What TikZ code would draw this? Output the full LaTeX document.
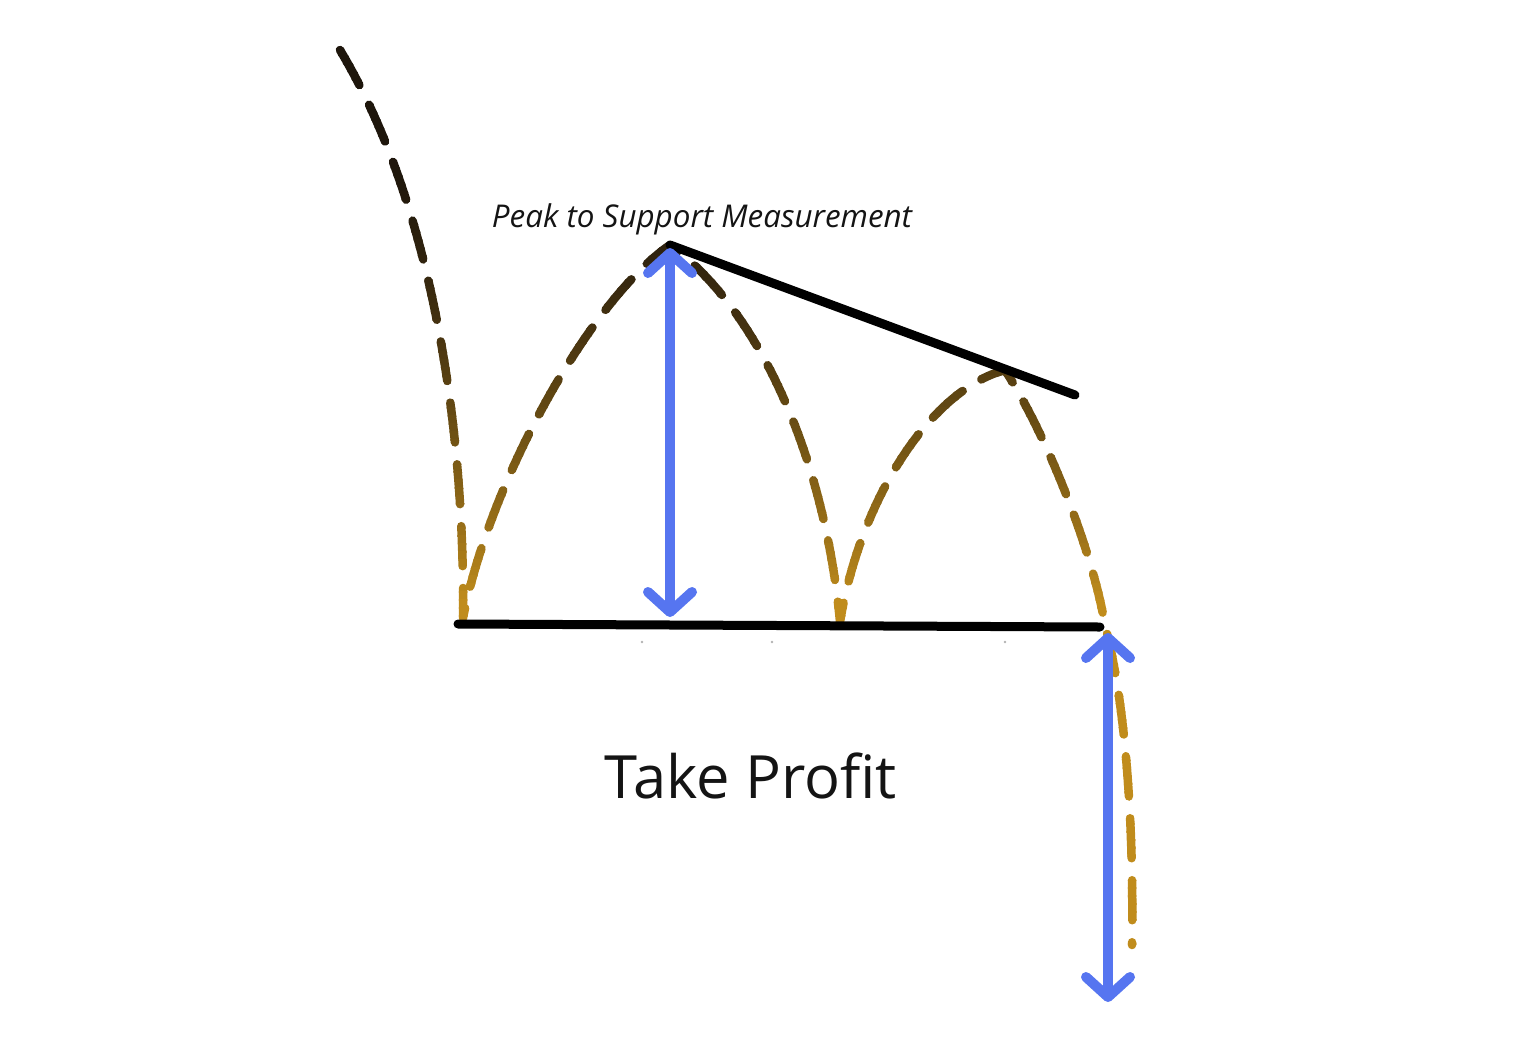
\documentclass[tikz,border=0pt]{standalone}
\usepackage{fontspec}
\usepackage{graphicx}
\setmainfont{Open Sans}
\usetikzlibrary{arrows.meta}
\definecolor{gold}{RGB}{192,140,28}
\definecolor{darkb}{RGB}{30,22,12}
\definecolor{measblue}{RGB}{86,117,240}
\definecolor{txt}{RGB}{20,20,20}
\begin{document}
\begin{tikzpicture}[x=1pt,y=-1pt,
 trend/.style={line width=8.5pt, line cap=round, line join=round, dash pattern=on 40pt off 22pt},
 level/.style={black,line width=9pt,line cap=round},
 meas/.style={measblue,line width=10pt,line cap=round,
   {Straight Barb[length=20pt,width=44pt,round]}-{Straight Barb[length=20pt,width=44pt,round]}},
 tick/.style={fill=gray!60,draw=none},
 label/.style={text=txt,inner sep=0pt}
 ]
\useasboundingbox (0,0) rectangle (1536,1042);
\coordinate (start) at (340,50);
\coordinate (d1) at (463,618);
\coordinate (p1) at (670,245);
\coordinate (d2) at (840,622);
\coordinate (p2) at (1005,370);
\coordinate (b) at (1105,626);
\coordinate (end) at (1132,945);
\coordinate (sstart) at (458,624);
\coordinate (send) at (1100,627);
\coordinate (rend) at (1075,395);
\coordinate (mtop) at (670,248);
\coordinate (mbot) at (670,617);
\coordinate (ttop) at (1108,633);
\coordinate (tbot) at (1108,1002);
\coordinate (k1) at (642,642);
\coordinate (k2) at (772,642);
\coordinate (k3) at (1005,642);
% dashed price path with vertical colour gradient
\foreach \yy in {0,8,...,1040}{
  \pgfmathsetmacro\tval{100*(max(0,min(1,(\yy-150)/450)))^1.5}
  \colorlet{cc}{gold!\tval!darkb}
  \begin{scope}
    \clip (0,\yy-0.6) rectangle (1536,\yy+8.6);
    \draw[trend,cc] (start) .. controls (430,200) and (465,420) .. (d1)
      .. controls (490,480) and (590,300) .. (p1)
      .. controls (760,310) and (825,460) .. (d2)
      .. controls (860,500) and (930,390) .. (p2)
      .. controls (1050,440) and (1095,560) .. (b)
      .. controls (1125,700) and (1134,820) .. (end);
  \end{scope}
}
% levels
\draw[level] (sstart) -- (send);
\draw[level] (p1) -- (rend);
% ticks
\fill[tick] (k1) circle (1.3);
\fill[tick] (k2) circle (1.3);
\fill[tick] (k3) circle (1.3);
% measurements
\draw[meas] (mtop) -- (mbot);
\draw[meas] (ttop) -- (tbot);
% labels
\node[label] (measlabel) at (702,219) {\resizebox{420pt}{!}{\itshape Peak to Support Measurement}};
\node[label] (tp) at (751,776) {\resizebox{292pt}{!}{Take Profit}};
\end{tikzpicture}
\end{document}
